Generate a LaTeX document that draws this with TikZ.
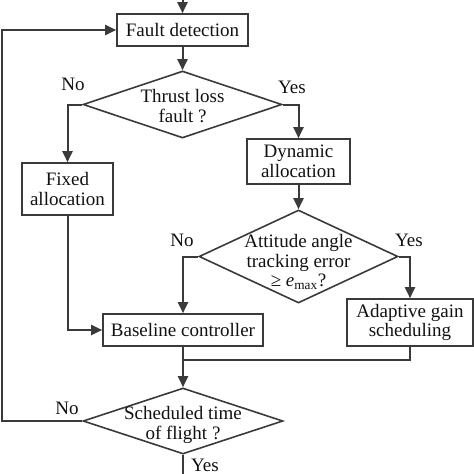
\documentclass[tikz,border=0pt]{standalone}
\usepackage{fontspec}
\setmainfont{Liberation Serif}
\usetikzlibrary{shapes.geometric,arrows.meta}
\definecolor{ink}{HTML}{111111}
\definecolor{wire}{HTML}{3A3A3A}
\tikzset{
  box/.style={draw=wire, line width=1.6pt, text=ink, align=center, inner sep=0pt},
  dec/.style={draw=wire, line width=1.6pt, shape=diamond, inner sep=0pt},
  dectext/.style={text=ink, align=center},
  flow/.style={draw=wire, line width=2pt, -{Triangle[length=11pt,width=10pt]}},
  wireline/.style={draw=wire, line width=2pt},
  lab/.style={text=ink},
}

\begin{document}
\begin{tikzpicture}[x=1pt,y=-1pt,font=\fontsize{19}{19.5}\selectfont]
  \useasboundingbox (0,0) rectangle (474,474);
  \coordinate (start) at (182.5,-6);
  \node[box,minimum width=131pt,minimum height=32pt] (detect) at (182.5,30) {Fault detection};
  \node[dec,minimum width=199pt,minimum height=67pt] (thrust) at (182.5,104.5) {};
  \node[dectext] (thrusttext) at (182.5,106) {Thrust loss\\fault ?};
  \node[box,minimum width=91pt,minimum height=52pt] (fixed) at (67.5,189) {Fixed\\allocation};
  \node[box,minimum width=103pt,minimum height=45pt] (dynamic) at (298.5,161.5) {Dynamic\\allocation};
  \node[dec,minimum width=199pt,minimum height=93pt] (attitude) at (298.5,256.5) {};
  \node[dectext] (attitudetext) at (298.5,262) {Attitude angle\\tracking error\\≥ \textit{e}\textsubscript{max}?};
  \node[box,minimum width=160pt,minimum height=32pt] (baseline) at (183,330) {Baseline controller};
  \node[box,minimum width=126pt,minimum height=47pt] (adaptive) at (410,322.5) {Adaptive gain\\scheduling};
  \node[dec,minimum width=200pt,minimum height=66pt] (sched) at (183,421) {};
  \node[dectext] (schedtext) at (183,425) {Scheduled time\\of flight ?};
  \coordinate (merge) at (183,360);
  \coordinate (loop) at (2,421);
  \coordinate (stop) at (183,486);

  \draw[flow] (start) -- (detect.north);
  \draw[flow] (detect.south) -- (thrust.north);
  \draw[flow] (thrust.west) -| (fixed.north);
  \draw[flow] (thrust.east) -| (dynamic.north);
  \draw[flow] (dynamic.south) -- (attitude.north);
  \draw[flow] (attitude.west) -| (baseline.north);
  \draw[flow] (attitude.east) -| (adaptive.north);
  \draw[flow] (fixed.south) |- (baseline.west);
  \draw[flow] (baseline.south) -- (sched.north);
  \draw[wireline] (adaptive.south) |- (merge);
  \draw[flow] (sched.west) -- (loop) |- (detect.west);
  \draw[flow] (sched.south) -- (stop);

  \node[lab] (no1) at (73,84) {No};
  \node[lab] (yes1) at (292,87) {Yes};
  \node[lab] (no2) at (182,240) {No};
  \node[lab] (yes2) at (409,240) {Yes};
  \node[lab] (no3) at (67,408) {No};
  \node[lab] (yes3) at (205,465) {Yes};
\end{tikzpicture}
\end{document}
